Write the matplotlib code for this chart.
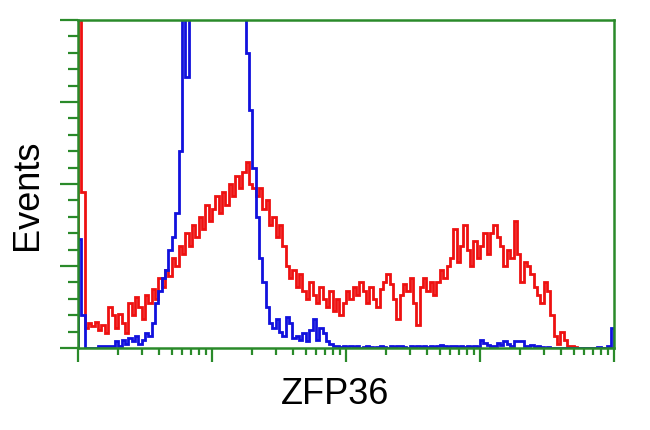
import numpy as np
import matplotlib
matplotlib.use('Agg')
import matplotlib.pyplot as plt

# histogram of ZFP36 fluorescence, 40 channels per decade, 4 decades
n_bins = 160
edges = 10 ** (np.arange(n_bins + 1) / 40.0)

red_counts = [600, 190, 25, 30, 27, 32, 22, 28, 18, 50,
              40, 25, 42, 30, 18, 55, 40, 62, 50, 35,
              65, 55, 72, 60, 85, 75, 95, 88, 110, 100,
              125, 115, 140, 125, 150, 135, 160, 145, 175, 155,
              170, 185, 165, 190, 175, 200, 185, 210, 195, 215,
              227, 200, 195, 185, 195, 170, 180, 150, 160, 135,
              150, 125, 100, 85, 95, 75, 90, 70, 60, 80,
              65, 55, 75, 60, 50, 70, 45, 60, 40, 55,
              70, 60, 75, 65, 80, 70, 55, 75, 60, 50,
              72, 80, 90, 78, 60, 35, 65, 78, 70, 85,
              55, 28, 75, 85, 70, 80, 65, 80, 95, 85,
              100, 110, 145, 105, 125, 150, 120, 100, 130, 110,
              125, 140, 115, 140, 150, 135, 125, 100, 120, 110,
              155, 115, 80, 105, 100, 90, 75, 65, 55, 80,
              70, 40, 15, 5, 20, 10, 3, 2, 1, 0,
              0, 0, 0, 0, 0, 0, 0, 0, 0, 0]

blue_counts = [133, 40, 0, 0, 0, 0, 2, 2, 2, 2,
               3, 8, 3, 10, 5, 12, 8, 15, 5, 10,
               18, 15, 30, 55, 70, 85, 95, 120, 135, 165,
               240, 420, 330, 600, 600, 600, 600, 600, 600, 600,
               600, 600, 600, 600, 600, 600, 600, 600, 600, 600,
               360, 290, 220, 160, 110, 80, 50, 30, 25, 35,
               20, 15, 38, 30, 12, 15, 10, 18, 8, 22,
               35, 10, 25, 18, 8, 5, 2, 2, 1, 2,
               1, 2, 1, 2, 0, 1, 2, 1, 0, 1,
               3, 1, 0, 2, 1, 2, 3, 1, 0, 2,
               1, 3, 1, 2, 1, 3, 1, 2, 4, 2,
               1, 3, 2, 1, 2, 1, 3, 1, 2, 1,
               10, 6, 4, 2, 3, 6, 4, 8, 5, 3,
               8, 9, 8, 3, 2, 4, 1, 2, 1, 0,
               1, 0, 0, 0, 0, 0, 0, 0, 0, 0,
               0, 0, 0, 0, 0, 1, 0, 0, 3, 25]

green = '#2a8a2a'

fig = plt.figure(figsize=(6.5, 4.31), dpi=100)
ax = fig.add_axes([78 / 650, 1 - 349 / 431, 536 / 650, 328 / 431])

ax.stairs(red_counts, edges, color='#ee1111', linewidth=2)
ax.stairs(blue_counts, edges, color='#1111dd', linewidth=2)

ax.set_xscale('log')
ax.set_xlim(1, 10 ** 4)
ax.set_ylim(0, 400)

ax.set_yticks([0, 100, 200, 300, 400])
ax.set_yticks(np.arange(0, 401, 20), minor=True)
ax.tick_params(axis='y', which='major', length=13, width=1.6, color=green, labelleft=False)
ax.tick_params(axis='y', which='minor', length=7, width=1.6, color=green)
ax.tick_params(axis='x', which='major', length=10, width=1.6, color=green, labelbottom=False)
ax.tick_params(axis='x', which='minor', length=5, width=1.6, color=green, labelbottom=False)

for sp in ax.spines.values():
    sp.set_color(green)
    sp.set_linewidth(1.8)

fig.text(28 / 650, 1 - 195 / 431, 'Events', rotation=90, ha='center', va='center',
         fontsize=26, family='Liberation Sans')
fig.text(335 / 650, 1 - 395 / 431, 'ZFP36', ha='center', va='center',
         fontsize=26, family='Liberation Sans')

fig.savefig('out.png', dpi=100)
